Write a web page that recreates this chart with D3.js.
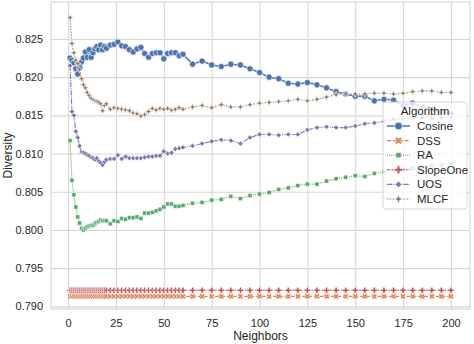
<!DOCTYPE html>
<html>
<head>
<meta charset="utf-8">
<script src="https://cdn.jsdelivr.net/npm/d3@7"></script>
<style>
  html, body { margin: 0; padding: 0; background: #fff; }
  svg { display: block; font-family: "Liberation Sans", Arial, sans-serif; }
</style>
</head>
<body>
<svg id="chart" width="474" height="344"></svg>
<script>
const neighbors = [1,2,3,4,5,6,7,8,9,10,11,12,13,14,15,16,17,18,19,20,
  22,24,26,28,30,32,34,36,38,40,42,44,46,48,50,52,54,56,58,60,
  65,70,75,80,85,90,95,100,105,110,115,120,125,130,135,140,145,150,155,160,165,170,175,180,185,190,195,200];

const cosine = [0.8225,0.8222,0.8219,0.8211,0.8204,0.8213,0.8220,0.8225,0.8233,0.8226,0.8236,0.8226,0.8232,0.8237,0.8240,0.8236,0.8242,0.8236,0.8240,0.8238,
  0.8242,0.8243,0.8246,0.8241,0.8240,0.8236,0.8233,0.8237,0.8239,0.8231,0.8226,0.8231,0.8232,0.8232,0.8224,0.8231,0.8232,0.8232,0.8228,0.8230,
  0.8217,0.8221,0.8216,0.8214,0.8217,0.8216,0.8211,0.8206,0.8200,0.8198,0.8192,0.8191,0.8193,0.8190,0.8186,0.8181,0.8178,0.8175,0.8175,0.8169,0.8171,0.8170,0.8163,0.8166,0.8161,0.8158,0.8155,0.8152];

const dss = [0.7913,0.7913,0.7913,0.7913,0.7913,0.7913,0.7913,0.7913,0.7913,0.7913,0.7913,0.7913,0.7913,0.7913,0.7913,0.7913,0.7913,0.7913,0.7913,0.7913,
  0.7913,0.7913,0.7913,0.7913,0.7913,0.7913,0.7913,0.7913,0.7913,0.7913,0.7913,0.7913,0.7913,0.7913,0.7913,0.7913,0.7913,0.7913,0.7913,0.7913,
  0.7913,0.7913,0.7913,0.7913,0.7913,0.7913,0.7913,0.7913,0.7913,0.7913,0.7913,0.7913,0.7913,0.7913,0.7913,0.7913,0.7913,0.7913,0.7913,0.7913,0.7913,0.7913,0.7913,0.7913,0.7913,0.7913,0.7913,0.7913];

const ra = [0.8117,0.8065,0.8046,0.8030,0.8017,0.8009,0.8002,0.8000,0.8002,0.8004,0.8005,0.8006,0.8006,0.8008,0.8010,0.8011,0.8013,0.8012,0.8012,0.8012,
  0.8008,0.8012,0.8011,0.8015,0.8014,0.8016,0.8016,0.8017,0.8015,0.8022,0.8022,0.8023,0.8025,0.8027,0.8030,0.8034,0.8034,0.8031,0.8031,0.8032,
  0.8035,0.8036,0.8039,0.8040,0.8044,0.8041,0.8045,0.8047,0.8049,0.8053,0.8055,0.8058,0.8060,0.8060,0.8064,0.8067,0.8069,0.8071,0.8070,0.8074,0.8076,0.8078,0.8079,0.8081,0.8082,0.8084,0.8085,0.8087];

const slopeOne = [0.7921,0.7921,0.7921,0.7921,0.7921,0.7921,0.7921,0.7921,0.7921,0.7921,0.7921,0.7921,0.7921,0.7921,0.7921,0.7921,0.7921,0.7921,0.7921,0.7921,
  0.7921,0.7921,0.7921,0.7921,0.7921,0.7921,0.7921,0.7921,0.7921,0.7921,0.7921,0.7921,0.7921,0.7921,0.7921,0.7921,0.7921,0.7921,0.7921,0.7921,
  0.7921,0.7921,0.7921,0.7921,0.7921,0.7921,0.7921,0.7921,0.7921,0.7921,0.7921,0.7921,0.7921,0.7921,0.7921,0.7921,0.7921,0.7921,0.7921,0.7921,0.7921,0.7921,0.7921,0.7921,0.7921,0.7921,0.7921,0.7921];

const uos = [0.8215,0.8155,0.8150,0.8129,0.8121,0.8110,0.8102,0.8101,0.8100,0.8098,0.8097,0.8095,0.8094,0.8092,0.8094,0.8090,0.8088,0.8085,0.8089,0.8092,
  0.8093,0.8093,0.8098,0.8093,0.8096,0.8094,0.8094,0.8094,0.8094,0.8095,0.8096,0.8096,0.8097,0.8097,0.8103,0.8100,0.8101,0.8106,0.8107,0.8108,
  0.8110,0.8113,0.8116,0.8118,0.8117,0.8113,0.8121,0.8125,0.8125,0.8124,0.8125,0.8125,0.8131,0.8134,0.8135,0.8134,0.8134,0.8136,0.8139,0.8140,0.8142,0.8145,0.8146,0.8147,0.8147,0.8146,0.8147,0.8148];

const mlcf = [0.8278,0.8244,0.8232,0.8222,0.8218,0.8210,0.8198,0.8190,0.8186,0.8180,0.8176,0.8172,0.8170,0.8169,0.8168,0.8167,0.8165,0.8156,0.8163,0.8165,
  0.8158,0.8160,0.8159,0.8158,0.8157,0.8156,0.8153,0.8152,0.8149,0.8151,0.8155,0.8159,0.8157,0.8159,0.8158,0.8159,0.8157,0.8158,0.8160,0.8158,
  0.8161,0.8163,0.8160,0.8164,0.8161,0.8161,0.8164,0.8166,0.8167,0.8168,0.8169,0.8171,0.8169,0.8171,0.8174,0.8177,0.8178,0.8178,0.8178,0.8179,0.8179,0.8178,0.8179,0.8181,0.8182,0.8182,0.8180,0.8180];

const algorithms = ["Cosine", "DSS", "RA", "SlopeOne", "UOS", "MLCF"];
const seriesValues = [cosine, dss, ra, slopeOne, uos, mlcf];
const xTicks = [0, 25, 50, 75, 100, 125, 150, 175, 200];
const yTicks = [0.790, 0.795, 0.800, 0.805, 0.810, 0.815, 0.820, 0.825];
const colors = ["#4c72b0", "#dd8452", "#55a868", "#c44e52", "#8172b3", "#937860"];
const dashes = ["none", "4.2,1.6", "1,1", "3.2,1.3,1.6,1.3", "5.2,1,1,1", "1.4,1.4"];

(function () {
const svg = d3.select("#chart");
const pLeft = 51, pRight = 470, pTop = 2, pBottom = 309;
const x = d3.scaleLinear().domain([-8.95, 209.95]).range([pLeft, pRight]);
const y = d3.scaleLinear().domain([0.78965, 0.82984]).range([pBottom, pTop]);

const textColor = "#262626";
const gridColor = "#d6d6d6";

const gx = svg.append("g")
  .attr("transform", `translate(0,${pBottom})`)
  .call(d3.axisBottom(x).tickValues(xTicks).tickSize(-(pBottom - pTop)).tickPadding(8).tickFormat(d3.format("d")));
const gy = svg.append("g")
  .attr("transform", `translate(${pLeft},0)`)
  .call(d3.axisLeft(y).tickValues(yTicks).tickSize(-(pRight - pLeft)).tickPadding(8).tickFormat(d3.format(".3f")));
[gx, gy].forEach(g => {
  g.select(".domain").remove();
  g.selectAll(".tick line").attr("stroke", gridColor).attr("stroke-width", 1.1);
  g.selectAll(".tick text").attr("fill", textColor).attr("font-size", "11px")
    .attr("font-family", "'Liberation Sans', Arial, sans-serif");
});
gx.selectAll(".tick text").attr("dy", "0.9em");

svg.append("rect").attr("x", pLeft).attr("y", pTop).attr("width", pRight - pLeft).attr("height", pBottom - pTop)
  .attr("fill", "none").attr("stroke", gridColor).attr("stroke-width", 1.1);

svg.append("text").attr("x", (pLeft + pRight) / 2).attr("y", 340)
  .attr("text-anchor", "middle").attr("fill", textColor).attr("font-size", "12px").text("Neighbors");
svg.append("text").attr("transform", `translate(12,${(pTop + pBottom) / 2}) rotate(-90)`)
  .attr("text-anchor", "middle").attr("fill", textColor).attr("font-size", "12px").text("Diversity");

function star4(r) {
  const ri = r * 0.38;
  const pts = [];
  for (let i = 0; i < 8; i++) {
    const a = -Math.PI / 2 + i * Math.PI / 4;
    const rr = i % 2 === 0 ? r : ri;
    pts.push([rr * Math.cos(a), rr * Math.sin(a)]);
  }
  return "M" + pts.map(p => p.join(",")).join("L") + "Z";
}
const markerPaths = [
  d3.symbol(d3.symbolCircle, 30)(),
  d3.symbol(d3.symbolCross, 22)(),
  d3.symbol(d3.symbolSquare, 18)(),
  d3.symbol(d3.symbolCross, 22)(),
  d3.symbol(d3.symbolSquare, 14)(),
  star4(3.6)
];
const markerRot = [0, 45, 0, 0, 45, 0];
const lineWidths = [1.5, 1.1, 1.1, 1.1, 1.1, 1.1];

const line = d3.line().x(d => x(d[0])).y(d => y(d[1]));

const plot = svg.append("g");
seriesValues.forEach((vals, i) => {
  const data = neighbors.map((n, j) => [n, vals[j]]);
  const g = plot.append("g");
  g.append("path").datum(data).attr("d", line)
    .attr("fill", "none").attr("stroke", colors[i]).attr("stroke-width", lineWidths[i])
    .attr("stroke-dasharray", dashes[i]);
  g.selectAll("path.m").data(data).join("path").attr("class", "m")
    .attr("d", markerPaths[i])
    .attr("transform", d => `translate(${x(d[0])},${y(d[1])}) rotate(${markerRot[i]})`)
    .attr("fill", colors[i]).attr("stroke", "#fff").attr("stroke-width", 0.6);
});

const lg = svg.append("g").attr("transform", "translate(383,102)");
lg.append("rect").attr("width", 84).attr("height", 107).attr("rx", 3)
  .attr("fill", "#fff").attr("fill-opacity", 0.8).attr("stroke", "#cccccc").attr("stroke-width", 0.8);
lg.append("text").attr("x", 42).attr("y", 13).attr("text-anchor", "middle")
  .attr("fill", textColor).attr("font-size", "11.5px").text("Algorithm");
algorithms.forEach((name, i) => {
  const cy = 24 + i * 14.6;
  lg.append("line").attr("x1", 4).attr("x2", 27).attr("y1", cy).attr("y2", cy)
    .attr("stroke", colors[i]).attr("stroke-width", lineWidths[i]).attr("stroke-dasharray", dashes[i]);
  lg.append("path").attr("d", markerPaths[i])
    .attr("transform", `translate(15.5,${cy}) rotate(${markerRot[i]}) scale(1.25)`)
    .attr("fill", colors[i]).attr("stroke", "#fff").attr("stroke-width", 0.5);
  lg.append("text").attr("x", 34).attr("y", cy).attr("dy", "0.35em")
    .attr("fill", textColor).attr("font-size", "11.5px").text(name);
});
})();
</script>
</body>
</html>
